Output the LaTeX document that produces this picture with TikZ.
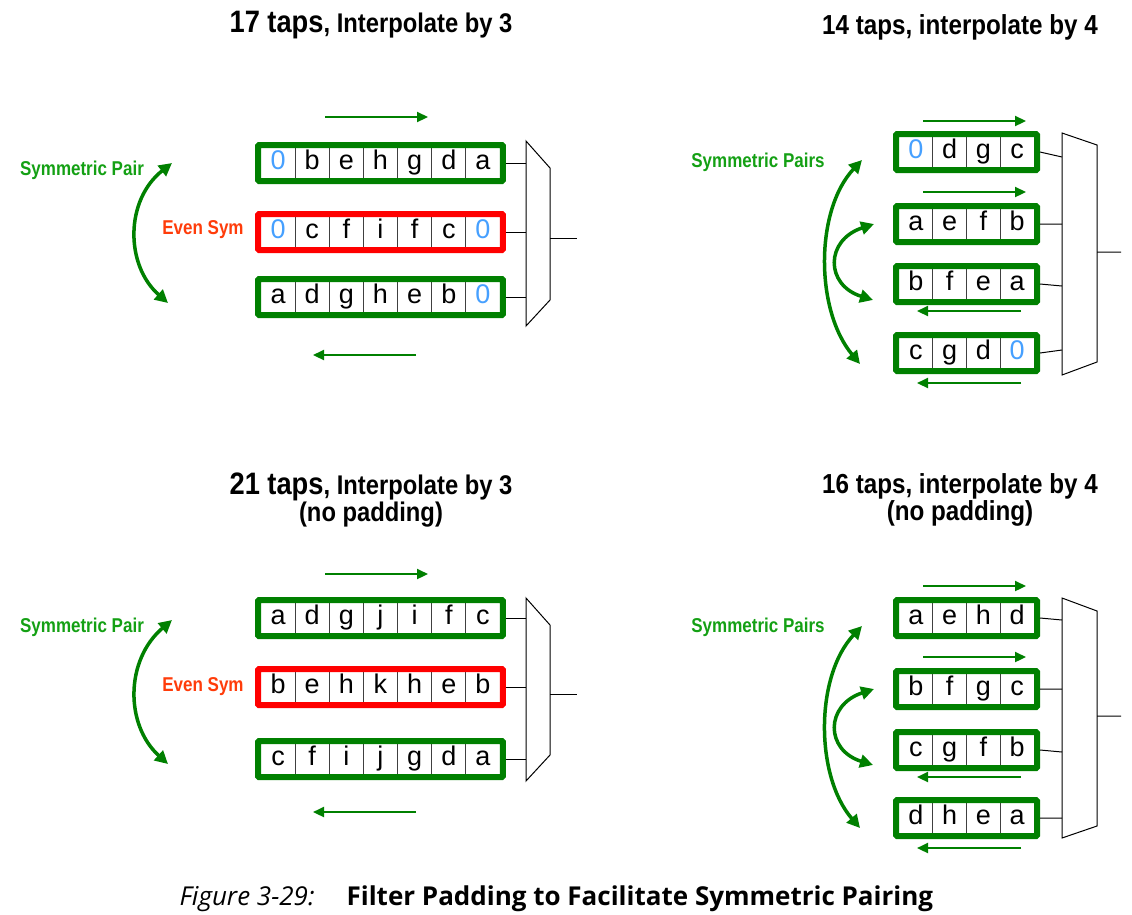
\documentclass[tikz,border=0pt]{standalone}
\usepackage{fontspec}
\setmainfont{Liberation Sans}
\newfontfamily\capfont{Open Sans}
\usetikzlibrary{arrows.meta,calc}
\definecolor{gr}{RGB}{0,128,0}
\definecolor{lgr}{RGB}{20,160,20}
\definecolor{rd}{RGB}{255,0,0}
\definecolor{ors}{RGB}{255,60,10}
\definecolor{zb}{RGB}{70,160,255}
\newcommand\zz{\textcolor{zb}{0}}
\tikzset{
  flow/.style={draw=gr, line width=2.2pt, -{Triangle[length=11pt,width=10pt]}},
  pair/.style={draw=gr, line width=3.5pt, {Triangle[length=13pt,width=13pt]}-{Triangle[length=13pt,width=13pt]}},
  lab/.style={font=\fontsize{20}{20}\selectfont\bfseries, xscale=0.85},
  ttl/.style={font=\bfseries, xscale=0.88, align=center},
  cell/.style={font=\fontsize{27}{27}\selectfont, text=black},
  mux/.style={draw=black, line width=1pt},
}
% name, left x, centre y, cell width, colour, cell list
\newcommand\taprow[6]{%
  \foreach \t [count=\i] in {#6}{\global\let\ncell\i}%
  \pgfmathsetmacro\rw{\ncell*#4+12}%
  \fill[white] (#2+6,#3-15) rectangle (#2+\rw-6,#3+15);
  \foreach \t [count=\i] in {#6}{%
    \node[cell] at (#2+6+\i*#4-0.5*#4,#3+1) {\strut\t};
    \ifnum\i<\ncell \draw[black!75, line width=0.9pt] (#2+6+\i*#4,#3-15) -- (#2+6+\i*#4,#3+15);\fi
  }%
  \draw[#5, line width=6pt, rounded corners=1pt] (#2+3,#3-18) rectangle (#2+\rw-3,#3+18);
  \coordinate (#1) at (#2+\rw,#3);
}
\begin{document}
\begin{tikzpicture}[x=1pt,y=-1pt]
\useasboundingbox (0,0) rectangle (1132,914);

% ---------- top left ----------
\node[ttl] (t1) at (371,25) {\fontsize{31}{31}\selectfont 17 taps\fontsize{27}{27}\selectfont, Interpolate by 3};
\taprow{r11}{255}{163}{34.14}{gr}{\zz,b,e,h,g,d,a}
\taprow{r12}{255}{232}{34.14}{rd}{\zz,c,f,i,f,c,\zz}
\taprow{r13}{255}{297}{34.14}{gr}{a,d,g,h,e,b,\zz}
\draw[mux] (526,141) -- (550,168) -- (550,300) -- (526,326) -- cycle;
\coordinate (m1o) at (577,238);
\draw[mux] (r11) -- (526,163) (r12) -- (526,232) (r13) -- (526,297) (550,238) -- (m1o);
\coordinate (a1s) at (325,117); \coordinate (a1e) at (428,117);
\draw[flow] (a1s) -- (a1e);
\coordinate (a2s) at (416,355); \coordinate (a2e) at (313,355);
\draw[flow] (a2s) -- (a2e);
\coordinate (p1a) at (172,163); \coordinate (p1b) at (168,303);
\draw[pair] (p1a) .. controls (125,200) and (125,265) .. (p1b);
\node[lab, text=lgr] (l1) at (82,170) {Symmetric Pair};
\node[lab, text=ors] (l2) at (203,230) {Even Sym};

% ---------- top right ----------
\node[ttl] (t2) at (960,27) {\fontsize{27.5}{27.5}\selectfont 14 taps, interpolate by 4};
\taprow{r21}{893}{152}{33.75}{gr}{\zz,d,g,c}
\taprow{r22}{893}{224}{33.75}{gr}{a,e,f,b}
\taprow{r23}{893}{284}{33.75}{gr}{b,f,e,a}
\taprow{r24}{893}{353}{33.75}{gr}{c,g,d,\zz}
\draw[mux] (1062,133) -- (1097,145) -- (1097,362) -- (1062,375) -- cycle;
\coordinate (m2o) at (1121,252);
\draw[mux] (r21) -- (1062,157) (r22) -- (1062,224) (r23) -- (1062,286) (r24) -- (1062,350) (1097,252) -- (m2o);
\foreach \n/\y in {b1/121,b2/192}{
  \coordinate (\n s) at (923,\y); \coordinate (\n e) at (1026,\y);
  \draw[flow] (\n s) -- (\n e);}
\foreach \n/\y in {b3/311,b4/383}{
  \coordinate (\n s) at (1021,\y); \coordinate (\n e) at (917,\y);
  \draw[flow] (\n s) -- (\n e);}
\coordinate (p2a) at (862,160); \coordinate (p2b) at (860,364);
\draw[pair] (p2a) .. controls (815,210) and (815,310) .. (p2b);
\coordinate (p3a) at (874,224); \coordinate (p3b) at (873,300);
\draw[pair] (p3a) .. controls (825,240) and (825,285) .. (p3b);
\node[lab, text=lgr] (l3) at (758,162) {Symmetric Pairs};

% ---------- bottom left ----------
\node[ttl] (t3) at (371,500) {\fontsize{31}{31}\selectfont 21 taps\fontsize{27}{36}\selectfont, Interpolate by 3\\\fontsize{27}{27}\selectfont(no padding)};
\taprow{r31}{255}{618}{34.14}{gr}{a,d,g,j,i,f,c}
\taprow{r32}{255}{687}{34.14}{rd}{b,e,h,k,h,e,b}
\taprow{r33}{255}{759}{34.14}{gr}{c,f,i,j,g,d,a}
\draw[mux] (526,598) -- (550,625) -- (550,755) -- (526,781) -- cycle;
\coordinate (m3o) at (577,694);
\draw[mux] (r31) -- (526,618) (r32) -- (526,687) (r33) -- (526,759) (550,694) -- (m3o);
\coordinate (c1s) at (325,574); \coordinate (c1e) at (428,574);
\draw[flow] (c1s) -- (c1e);
\coordinate (c2s) at (416,812); \coordinate (c2e) at (313,812);
\draw[flow] (c2s) -- (c2e);
\coordinate (p4a) at (172,620); \coordinate (p4b) at (168,764);
\draw[pair] (p4a) .. controls (125,660) and (125,725) .. (p4b);
\node[lab, text=lgr] (l4) at (82,627) {Symmetric Pair};
\node[lab, text=ors] (l5) at (203,687) {Even Sym};

% ---------- bottom right ----------
\node[ttl] (t4) at (960,500) {\fontsize{27.5}{36}\selectfont 16 taps, interpolate by 4\\\fontsize{27.5}{27.5}\selectfont(no padding)};
\taprow{r41}{893}{618}{33.75}{gr}{a,e,h,d}
\taprow{r42}{893}{689}{33.75}{gr}{b,f,g,c}
\taprow{r43}{893}{750}{33.75}{gr}{c,g,f,b}
\taprow{r44}{893}{818}{33.75}{gr}{d,h,e,a}
\draw[mux] (1062,598) -- (1097,611) -- (1097,826) -- (1062,838) -- cycle;
\coordinate (m4o) at (1121,716);
\draw[mux] (r41) -- (1062,620) (r42) -- (1062,689) (r43) -- (1062,752) (r44) -- (1062,818) (1097,716) -- (m4o);
\foreach \n/\y in {d1/586,d2/657}{
  \coordinate (\n s) at (923,\y); \coordinate (\n e) at (1026,\y);
  \draw[flow] (\n s) -- (\n e);}
\foreach \n/\y in {d3/777,d4/848}{
  \coordinate (\n s) at (1021,\y); \coordinate (\n e) at (917,\y);
  \draw[flow] (\n s) -- (\n e);}
\coordinate (p5a) at (862,626); \coordinate (p5b) at (860,828);
\draw[pair] (p5a) .. controls (815,676) and (815,776) .. (p5b);
\coordinate (p6a) at (874,689); \coordinate (p6b) at (873,765);
\draw[pair] (p6a) .. controls (825,705) and (825,750) .. (p6b);
\node[lab, text=lgr] (l6) at (758,627) {Symmetric Pairs};

% ---------- caption ----------
\node[font=\capfont\fontsize{26}{26}\selectfont, anchor=west] (cap) at (176,899)
  {\itshape Figure 3-29:\upshape\hspace{32pt}\bfseries Filter Padding to Facilitate Symmetric Pairing};
\end{tikzpicture}
\end{document}
